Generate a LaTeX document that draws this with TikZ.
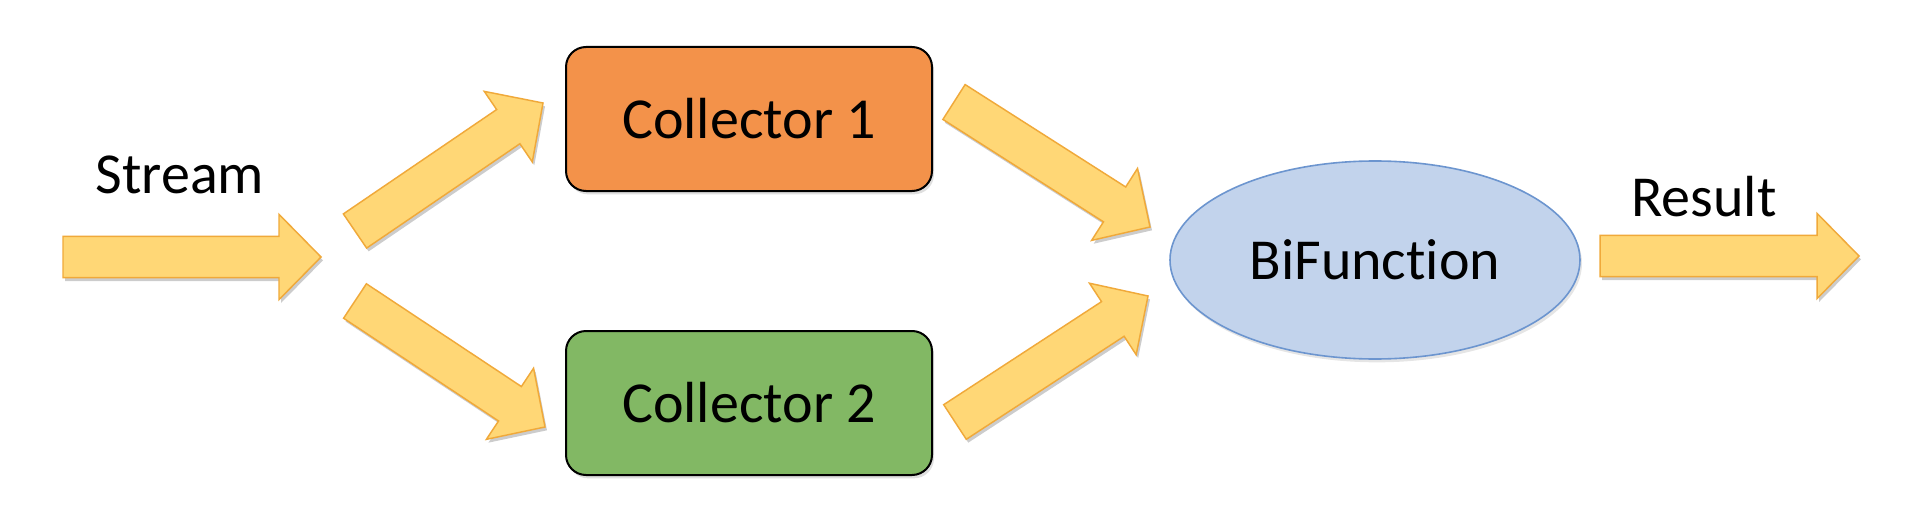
\documentclass[tikz,border=0pt]{standalone}
\usepackage{fontspec}
\setmainfont{Carlito}[Ligatures={NoCommon,NoContextual}]
\usetikzlibrary{shapes.geometric,calc,shadows}
\definecolor{arrfill}{HTML}{FFD776}
\definecolor{arrdraw}{HTML}{F0A93A}
\definecolor{orangebox}{HTML}{F3924A}
\definecolor{greenbox}{HTML}{82B864}
\definecolor{bluefill}{HTML}{C2D3EC}
\definecolor{bluedraw}{HTML}{6C95CF}
\newcommand\blockarr[2]{%
  \draw[barrow] let \p1=(#1), \p2=(#2),
    \n1={atan2(\y2-\y1,\x2-\x1)}, \n2={veclen(\x2-\x1,\y2-\y1)} in
    {[shift={(\p1)}, rotate=\n1]
      (0pt,-15.5pt) -- ({(\n2-31.5)*1pt},-15.5pt) -- ({(\n2-31.5)*1pt},-32pt)
      -- ({\n2*1pt},0pt) -- ({(\n2-31.5)*1pt},32pt) -- ({(\n2-31.5)*1pt},15.5pt)
      -- (0pt,15.5pt) -- cycle};}
\tikzset{
  txt/.style={font=\fontsize{43.5}{52}\selectfont, inner sep=0pt},
  barrow/.style={fill=arrfill, draw=arrdraw, line width=1.1pt, line join=miter,
    preaction={fill=black, opacity=0.2, draw=none, transform canvas={shift={(1.5pt,-2.5pt)}}}},
  collbox/.style={txt, draw=black, line width=1.5pt, rounded corners=15pt,
    minimum width=274.5pt, minimum height=108pt,
    drop shadow={shadow xshift=1.5pt, shadow yshift=-2.5pt, opacity=0.25}},
  funcell/.style={txt, ellipse, fill=bluefill, draw=bluedraw, line width=1.2pt,
    minimum width=307.5pt, minimum height=148.5pt,
    drop shadow={shadow xshift=1.5pt, shadow yshift=-2.5pt, opacity=0.2}}
}
\begin{document}
\begin{tikzpicture}[x=0.75pt, y=-0.75pt]
  \fill[white] (0,0) rectangle (1928,510);
  \useasboundingbox (0,0) rectangle (1928,510);

  % nodes
  \node[collbox, fill=orangebox] (c1) at (749,119) {Collector 1};
  \node[collbox, fill=greenbox] (c2) at (749,403) {Collector 2};
  \node[funcell] (bf) at (1375,260) {BiFunction};
  \node[txt, anchor=base] (stream) at (180,193) {Stream};
  \node[txt, anchor=base] (result) at (1704,216) {Result};

  % arrow end points
  \coordinate (s0) at (63,257);   \coordinate (s1) at (321,257);
  \coordinate (a0) at (355,231);  \coordinate (a1) at (543,103);
  \coordinate (b0) at (355,301);  \coordinate (b1) at (545,427);
  \coordinate (d0) at (954,102);  \coordinate (d1) at (1150,227);
  \coordinate (e0) at (955,422);  \coordinate (e1) at (1148,296);
  \coordinate (r0) at (1600,256); \coordinate (r1) at (1859,256);

  \blockarr{s0}{s1}
  \blockarr{a0}{a1}
  \blockarr{b0}{b1}
  \blockarr{d0}{d1}
  \blockarr{e0}{e1}
  \blockarr{r0}{r1}
\end{tikzpicture}
\end{document}
